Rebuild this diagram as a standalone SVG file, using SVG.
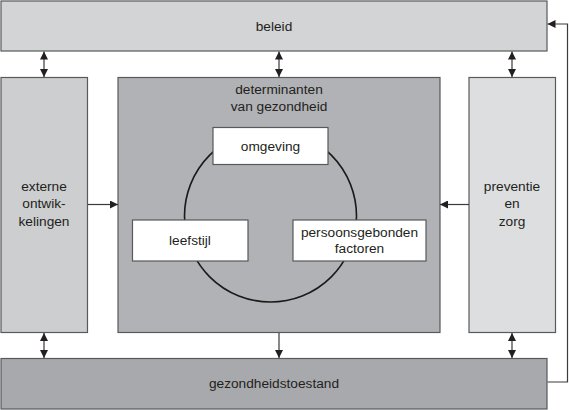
<svg xmlns="http://www.w3.org/2000/svg" width="569" height="410" viewBox="0 0 569 410">
<defs>
<style>
.box{stroke:#58595b;stroke-width:1.2}
.t{font-family:"Liberation Sans",Arial,sans-serif;font-size:13.7px;fill:#231f20;text-anchor:middle}
</style>
<marker id="ah" viewBox="0 0 10 10" refX="10" refY="5" markerWidth="8" markerHeight="8" markerUnits="userSpaceOnUse" orient="auto-start-reverse">
<path d="M0,0 L10,5 L0,10 Z" fill="#231f20"/>
</marker>
</defs>
<rect width="569" height="410" fill="#ffffff"/>
<g id="beleid">
<rect class="box" x="1" y="1" width="546" height="50" fill="#d3d4d6"/>
<text class="t" x="274" y="30.5">beleid</text>
</g>
<g id="externe">
<rect class="box" x="1" y="77.5" width="86.5" height="255" fill="#cdcecf"/>
<text class="t" x="44" y="190.5">externe</text>
<text class="t" x="44" y="208">ontwik-</text>
<text class="t" x="44" y="225.5">kelingen</text>
</g>
<g id="determinanten">
<rect class="box" x="118" y="77.5" width="322" height="255" fill="#b1b2b5"/>
<text class="t" x="279" y="93.5">determinanten</text>
<text class="t" x="279" y="111">van gezondheid</text>
<circle cx="270.5" cy="216" r="86" fill="none" stroke="#1a1a1a" stroke-width="1.6"/>
</g>
<g id="omgeving">
<rect class="box" x="213" y="127.5" width="115" height="37" fill="#ffffff"/>
<text class="t" x="270.5" y="150.5">omgeving</text>
</g>
<g id="leefstijl">
<rect class="box" x="132.5" y="220" width="115.5" height="41" fill="#ffffff"/>
<text class="t" x="190" y="245">leefstijl</text>
</g>
<g id="persoonsgebonden">
<rect class="box" x="293" y="220" width="133" height="41" fill="#ffffff"/>
<text class="t" x="359.5" y="237">persoonsgebonden</text>
<text class="t" x="359.5" y="253">factoren</text>
</g>
<g id="preventie">
<rect class="box" x="469" y="77.5" width="86.5" height="255" fill="#dddee0"/>
<text class="t" x="512" y="190.5">preventie</text>
<text class="t" x="512" y="208">en</text>
<text class="t" x="512" y="225.5">zorg</text>
</g>
<g id="gezondheidstoestand">
<rect class="box" x="1" y="358.5" width="546" height="50.5" fill="#a8a9ac"/>
<text class="t" x="274" y="388">gezondheidstoestand</text>
</g>
<g id="connectors" fill="none" stroke="#3a3a3c" stroke-width="1.2">
<line x1="44" y1="51.5" x2="44" y2="77" marker-start="url(#ah)" marker-end="url(#ah)"/>
<line x1="279" y1="51.5" x2="279" y2="77" marker-start="url(#ah)" marker-end="url(#ah)"/>
<line x1="512" y1="51.5" x2="512" y2="77" marker-start="url(#ah)" marker-end="url(#ah)"/>
<line x1="44" y1="333" x2="44" y2="358" marker-start="url(#ah)" marker-end="url(#ah)"/>
<line x1="279" y1="333" x2="279" y2="358" marker-end="url(#ah)"/>
<line x1="512" y1="333" x2="512" y2="358" marker-start="url(#ah)" marker-end="url(#ah)"/>
<line x1="88" y1="204.5" x2="118" y2="204.5" marker-end="url(#ah)"/>
<line x1="469" y1="204.5" x2="440" y2="204.5" marker-end="url(#ah)"/>
<polyline points="547.5,382 567.5,382 567.5,24 547.5,24" marker-end="url(#ah)"/>
</g>
</svg>
